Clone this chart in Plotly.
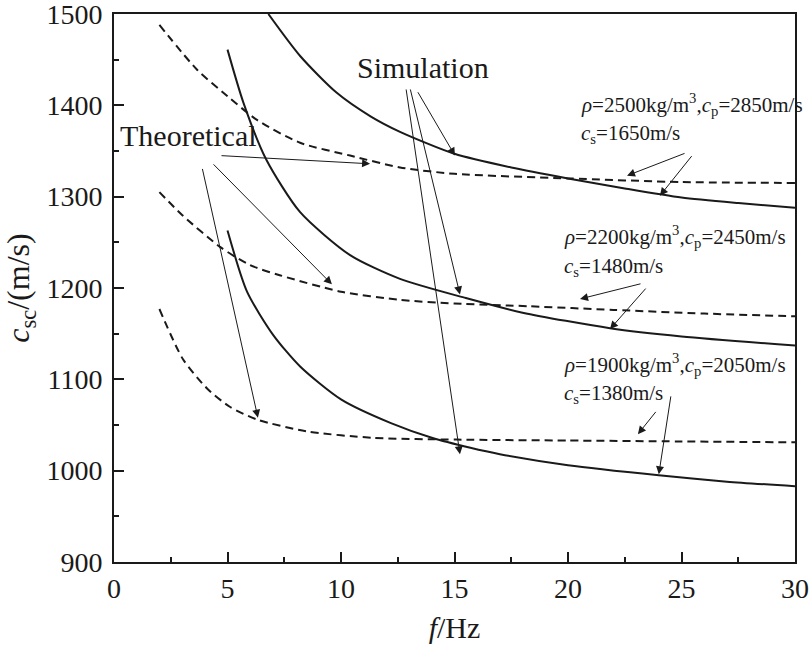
import plotly.graph_objects as go

FONT = "Liberation Serif"

# Simulation curves (solid)
f_sim_2500 = [6.8, 8.2, 9.8, 11.3, 12.6, 15.0, 17.5, 20.0, 22.5, 25.0, 27.5, 30.0]
c_sim_2500 = [1500, 1454, 1414, 1388, 1371, 1347, 1332, 1320, 1309, 1299, 1293, 1288]

f_sim_2200 = [5.0, 5.7, 6.7, 8.2, 10.4, 12.6, 15.5, 18.0, 21.85, 25.0, 30.0]
c_sim_2200 = [1461, 1403, 1341, 1283, 1236, 1210, 1189, 1173, 1156, 1147, 1137]

f_sim_1900 = [5.0, 5.86, 7.0, 8.2, 10.0, 12.2, 14.0, 15.7, 17.0, 20.0, 24.0, 27.0, 30.0]
c_sim_1900 = [1263, 1196, 1149, 1114, 1078, 1052, 1036, 1025, 1018, 1006, 995, 988, 983]

# Theoretical curves (dashed)
f_th_2500 = [2.0, 3.66, 5.0, 6.3, 8.2, 10.4, 12.6, 15.0, 20.0, 25.0, 30.0]
c_th_2500 = [1488, 1439, 1410, 1384, 1359, 1345, 1332, 1325, 1320, 1316, 1315]

f_th_2200 = [2.0, 3.0, 4.67, 6.0, 7.3, 10.0, 12.6, 15.0, 18.3, 22.0, 26.0, 30.0]
c_th_2200 = [1305, 1280, 1245, 1225, 1214, 1196, 1187, 1183, 1180, 1176, 1172, 1169]

f_th_1900 = [2.0, 3.04, 4.1, 5.1, 6.3, 8.5, 11.4, 15.1, 20.0, 25.0, 30.0]
c_th_1900 = [1177, 1122, 1090, 1070, 1056, 1043, 1036, 1034, 1033, 1032, 1031]

x_ticks = [0, 5, 10, 15, 20, 25, 30]
y_ticks = [900, 1000, 1100, 1200, 1300, 1400, 1500]

fig = go.Figure()
line_solid = dict(color="#1a1a1a", width=2, shape="spline", smoothing=0.7)
line_dash = dict(color="#1a1a1a", width=2, dash="8px,5px", shape="spline", smoothing=0.7)

for fx, cy in [(f_sim_2500, c_sim_2500), (f_sim_2200, c_sim_2200), (f_sim_1900, c_sim_1900)]:
    fig.add_trace(go.Scatter(x=fx, y=cy, mode="lines", line=line_solid, showlegend=False))
for fx, cy in [(f_th_2500, c_th_2500), (f_th_2200, c_th_2200), (f_th_1900, c_th_1900)]:
    fig.add_trace(go.Scatter(x=fx, y=cy, mode="lines", line=line_dash, showlegend=False))

# arrows: (head_x, head_y, tail_x, tail_y)
arrows = [
    (11.28, 1336, 4.67, 1345),
    (9.60, 1204, 4.32, 1337),
    (6.34, 1058, 3.88, 1332),
    (15.02, 1345, 13.35, 1416),
    (15.24, 1193, 13.04, 1419),
    (15.24, 1018, 12.86, 1419),
    (22.6, 1323, 25.2, 1348),
    (24.05, 1301, 25.5, 1346),
    (20.53, 1188, 23.26, 1205),
    (21.85, 1155, 23.48, 1201),
    (23.08, 1040, 23.92, 1066),
    (24.0, 996, 24.54, 1083),
]
for hx, hy, tx, ty in arrows:
    fig.add_annotation(x=hx, y=hy, ax=tx, ay=ty, xref="x", yref="y", axref="x", ayref="y",
                       text="", showarrow=True, arrowhead=2, arrowsize=1.6, arrowwidth=1,
                       arrowcolor="#1a1a1a", standoff=0, startstandoff=0)

labels = [
    (0.18, 1367, "Theoretical", 30),
    (10.6, 1441, "Simulation", 30),
    (20.5, 1401, "<i>ρ</i>=2500kg/m<sup>3</sup>,<i>c</i><sub>p</sub>=2850m/s", 21),
    (20.5, 1369, "<i>c</i><sub>s</sub>=1650m/s", 21),
    (19.74, 1256, "<i>ρ</i>=2200kg/m<sup>3</sup>,<i>c</i><sub>p</sub>=2450m/s", 21),
    (19.74, 1223, "<i>c</i><sub>s</sub>=1480m/s", 21),
    (19.74, 1116, "<i>ρ</i>=1900kg/m<sup>3</sup>,<i>c</i><sub>p</sub>=2050m/s", 21),
    (19.74, 1084, "<i>c</i><sub>s</sub>=1380m/s", 21),
]
for lx, ly, txt, fs in labels:
    fig.add_annotation(x=lx, y=ly, xref="x", yref="y", text=txt, showarrow=False,
                       xanchor="left", yanchor="middle",
                       font=dict(family=FONT, size=fs, color="#1a1a1a"))

axis_common = dict(showline=True, linecolor="#1a1a1a", linewidth=2, mirror=True,
                   ticks="inside", ticklen=10, tickwidth=2, tickcolor="#1a1a1a",
                   showgrid=False, zeroline=False, ticklabeloverflow="allow",
                   automargin=False,
                   tickfont=dict(family=FONT, size=28, color="#1a1a1a"))

fig.update_xaxes(range=[0, 30], tickvals=x_ticks, ticktext=[str(v) for v in x_ticks],
                 minor=dict(ticks="inside", ticklen=5, tickwidth=2, dtick=2.5, tickcolor="#1a1a1a"),
                 title=dict(text="<i>f</i>/Hz", font=dict(family=FONT, size=30, color="#1a1a1a"), standoff=14),
                 **axis_common)
fig.update_yaxes(range=[900, 1500], tickvals=y_ticks, ticktext=[str(v) for v in y_ticks],
                 minor=dict(ticks="inside", ticklen=5, tickwidth=2, dtick=50, tickcolor="#1a1a1a"),
                 title=dict(text="<i>c</i><sub>sc</sub>/(m/s)", font=dict(family=FONT, size=32, color="#1a1a1a"), standoff=8),
                 ticklabelstandoff=4,
                 **axis_common)

fig.update_layout(width=810, height=646, margin=dict(l=114, r=15, t=14, b=84),
                  plot_bgcolor="white", paper_bgcolor="white", showlegend=False,
                  font=dict(family=FONT))

fig.write_html("out.html")
